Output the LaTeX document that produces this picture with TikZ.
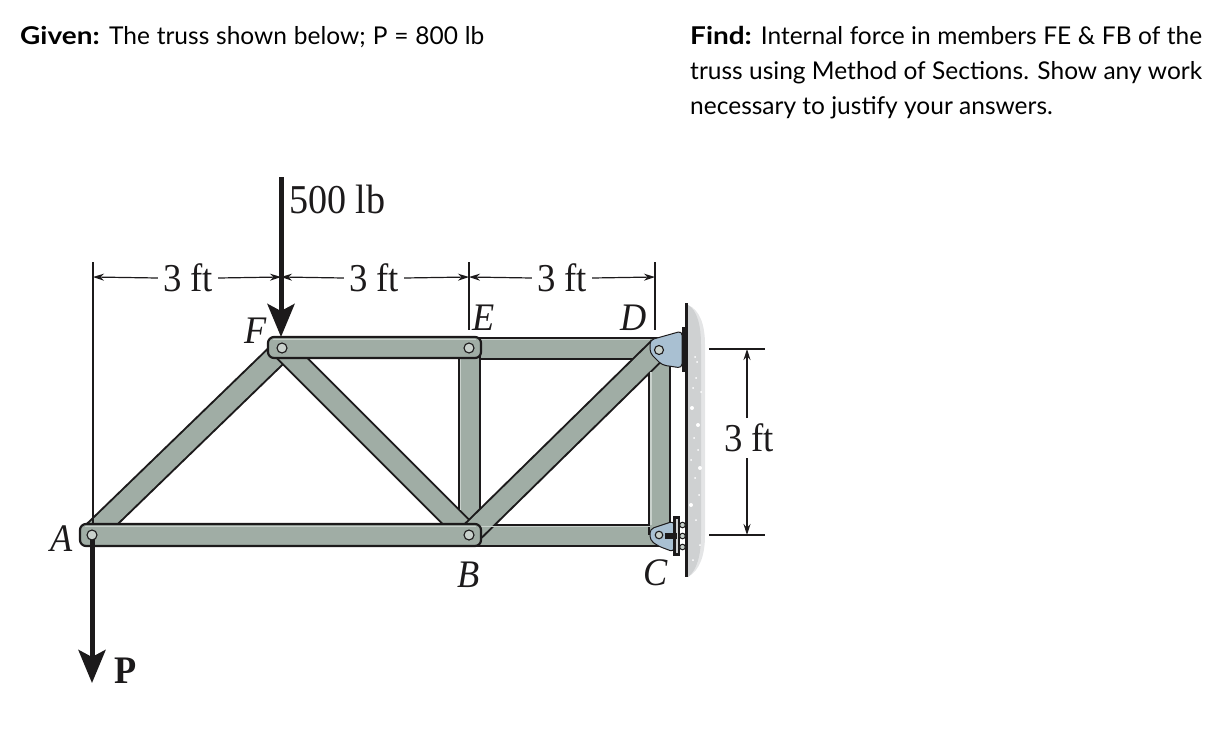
\documentclass[tikz,border=0pt]{standalone}
\usepackage{fontspec}
\usetikzlibrary{arrows.meta}
\setmainfont{Lato}[BoldFeatures={FakeStretch=1.14}]
\newfontfamily\figfont[FakeStretch=0.93]{Liberation Serif}
\definecolor{memgray}{HTML}{A0ADA5}
\definecolor{memlight}{HTML}{C9D1CC}
\definecolor{gusset}{HTML}{A9C0D2}
\definecolor{wallgray}{HTML}{CFD1D2}
\definecolor{wallsoft}{HTML}{E4E5E6}
\definecolor{ink}{HTML}{1C1A1B}
\tikzset{
  member/.style={draw=ink,line width=2pt,double=memgray,double distance=19pt},
  diagonal/.style={draw=ink,line width=2pt,double=memgray,double distance=19.5pt},
  plate/.style={draw=ink,line width=2.2pt,fill=memgray,rounded corners=6pt},
  pin/.style={circle,draw=ink,line width=1.1pt,fill=memlight,minimum size=10pt,inner sep=0pt},
  highlight/.style={draw=memlight,line width=1.3pt},
  gussetplate/.style={draw=ink,line width=1pt,fill=gusset,rounded corners=4pt},
  dimline/.style={draw=ink,line width=1.2pt},
  dimarrow/.style={dimline,-{Stealth[length=11pt,width=7pt]}},
  extline/.style={draw=ink,line width=1.2pt},
  force/.style={draw=ink,line width=5pt,-{Stealth[length=33pt,width=27pt,inset=7pt]}},
  bodytext/.style={anchor=base west,inner sep=0pt,font=\fontsize{24.5}{35}\selectfont,text=black},
  dimtext/.style={inner sep=0pt,font=\figfont\fontsize{39.5}{39.5}\selectfont,text=ink},
  loadtext/.style={inner sep=0pt,font=\figfont\fontsize{41}{41}\selectfont,text=ink},
  letter/.style={inner sep=0pt,font=\figfont\itshape\fontsize{39}{39}\selectfont,text=ink},
}
\begin{document}
\begin{tikzpicture}[x=1pt,y=-1pt]
\useasboundingbox (0,0) rectangle (1222,745);
% joints
\coordinate (A) at (93,533);
\coordinate (Fa) at (280,352);
\coordinate (F) at (282,348);
\coordinate (E) at (469,348);
\coordinate (B) at (469,535);
\coordinate (D) at (659.5,348);
\coordinate (C) at (659.5,535);
% wall
\fill[wallsoft] (688,305) .. controls (700,310) and (705,325) .. (705,345) -- (705,535) .. controls (705,555) and (700,570) .. (688,577) -- cycle;
\fill[wallgray] (688,305) .. controls (697,310) and (701,325) .. (701,345) -- (701,535) .. controls (701,555) and (697,570) .. (688,577) -- cycle;
\foreach \p/\r in {{695,357}/1,{697,362}/1,{696,378}/1,{693,388}/1,{701,392}/1,{692,408}/2,{698,425}/2,{694,438}/1,{698,450}/1,{691,460}/1,{700,468}/2,{695,478}/1,{699,495}/1,{691,505}/2,{696,520}/1,{700,545}/1,{693,560}/1}
  \fill[white] (\p) circle (\r pt);
\draw[line width=3pt,draw=ink] (686.5,303) -- (686.5,577);
% members
\draw[diagonal] (A) -- (Fa);
\draw[member] (E) -- (D);
\draw[member] (B) -- (C);
\draw[member] (E) -- (B);
\draw[member] (D) -- (C);
\draw[diagonal] (F) -- (B);
\draw[diagonal] (B) -- (D);
\draw[highlight] (460.5,358) -- (460.5,510);
\draw[highlight] (651,372) -- (651,525);
\draw[highlight] (481,339.5) -- (650,339.5);
\draw[highlight] (481,526.5) -- (650,526.5);
\draw[plate] (268,337) rectangle (481,358);
\draw[plate] (80,524) rectangle (481,546);
\draw[highlight] (273,339.5) -- (476,339.5);
\draw[highlight] (85,526.5) -- (476,526.5);
% gussets
\draw[gussetplate] (650,340) -- (682,331) -- (682,368) -- (662,365) -- (650,353) -- cycle;
\draw[gussetplate] (650,529) -- (674,521) -- (674,552) -- (658,546) -- (650,540) -- cycle;
\fill[ink] (682,327) rectangle (686,372);
\fill[ink] (673,516) rectangle (680,556);
\fill[wallgray] (675.5,519) rectangle (677.5,553);
\fill[ink] (665,533) rectangle (677,539);
\foreach \y in {525,536,547} \draw[ink,line width=1pt,fill=memlight] (682.5,\y) circle (2.8pt);
\node[pin] (pinF) at (F) {};
\node[pin] (pinE) at (E) {};
\node[pin] (pinB) at (B) {};
\node[pin,minimum size=9pt] (pinD) at (659,350) {};
\node[pin,minimum size=7.5pt] (pinC) at (659,535) {};
% forces
\coordinate (forceTop) at (281,177);
\coordinate (forceTip) at (281,337);
\coordinate (pStart) at (92,535);
\coordinate (pTip) at (92,683);
\draw[force] (forceTop) -- (forceTip);
\draw[force] (pStart) -- (pTip);
\node[pin] (pinA) at (pStart) {};
\node[inner sep=0pt,anchor=base,font=\figfont\bfseries\fontsize{39}{39}\selectfont,text=ink] (labelP) at (126,683) {P};
\node[loadtext,anchor=base west] (load) at (289,213) {500 lb};
% dimensions
\coordinate (x0) at (93,277); \coordinate (x1) at (281,277); \coordinate (x2) at (469,277); \coordinate (x3) at (655,277);
\draw[extline] (93,262) -- (93,523);
\draw[extline] (469,262) -- (469,330);
\draw[extline] (655,262) -- (655,330);
\node[dimtext] (d1) at (188,278) {3 ft};
\node[dimtext] (d2) at (374,278) {3 ft};
\node[dimtext] (d3) at (562,278) {3 ft};
\draw[dimarrow] (d1.west) ++(-5,0) -- (x0);
\draw[dimarrow] (d1.east) ++(5,0) -- (x1);
\draw[dimarrow] (d2.west) ++(-5,0) -- (x1);
\draw[dimarrow] (d2.east) ++(5,0) -- (x2);
\draw[dimarrow] (d3.west) ++(-5,0) -- (x2);
\draw[dimarrow] (d3.east) ++(5,0) -- (x3);
\coordinate (yTop) at (747,349); \coordinate (yBot) at (747,535);
\draw[extline] (709,349) -- (765,349);
\draw[extline] (709,535) -- (765,535);
\node[dimtext] (d4) at (749,438) {3 ft};
\draw[dimarrow] (747,418) -- (yTop);
\draw[dimarrow] (747,458) -- (yBot);
% letters
\node[letter] (la) at (62,539) {A};
\node[letter] (lf) at (256,331) {F};
\node[letter] (le) at (484,318) {E};
\node[letter] (ld) at (634,318) {D};
\node[letter] (lb) at (469,575) {B};
\node[letter] (lc) at (656,573) {C};
% text
\node[bodytext] (given) at (20,44) {\hbox to 464pt{\textbf{Given:} The truss shown below; P = 800 lb}};
\node[bodytext] (find1) at (690,44) {\hbox to 512pt{\textbf{Find:} Internal force in members FE \& FB of the}};
\node[bodytext] (find2) at (690,79) {\hbox to 512pt{truss using Method of Sections. Show any work}};
\node[bodytext] (find3) at (690,114) {necessary to justify your answers.};
\end{tikzpicture}
\end{document}
